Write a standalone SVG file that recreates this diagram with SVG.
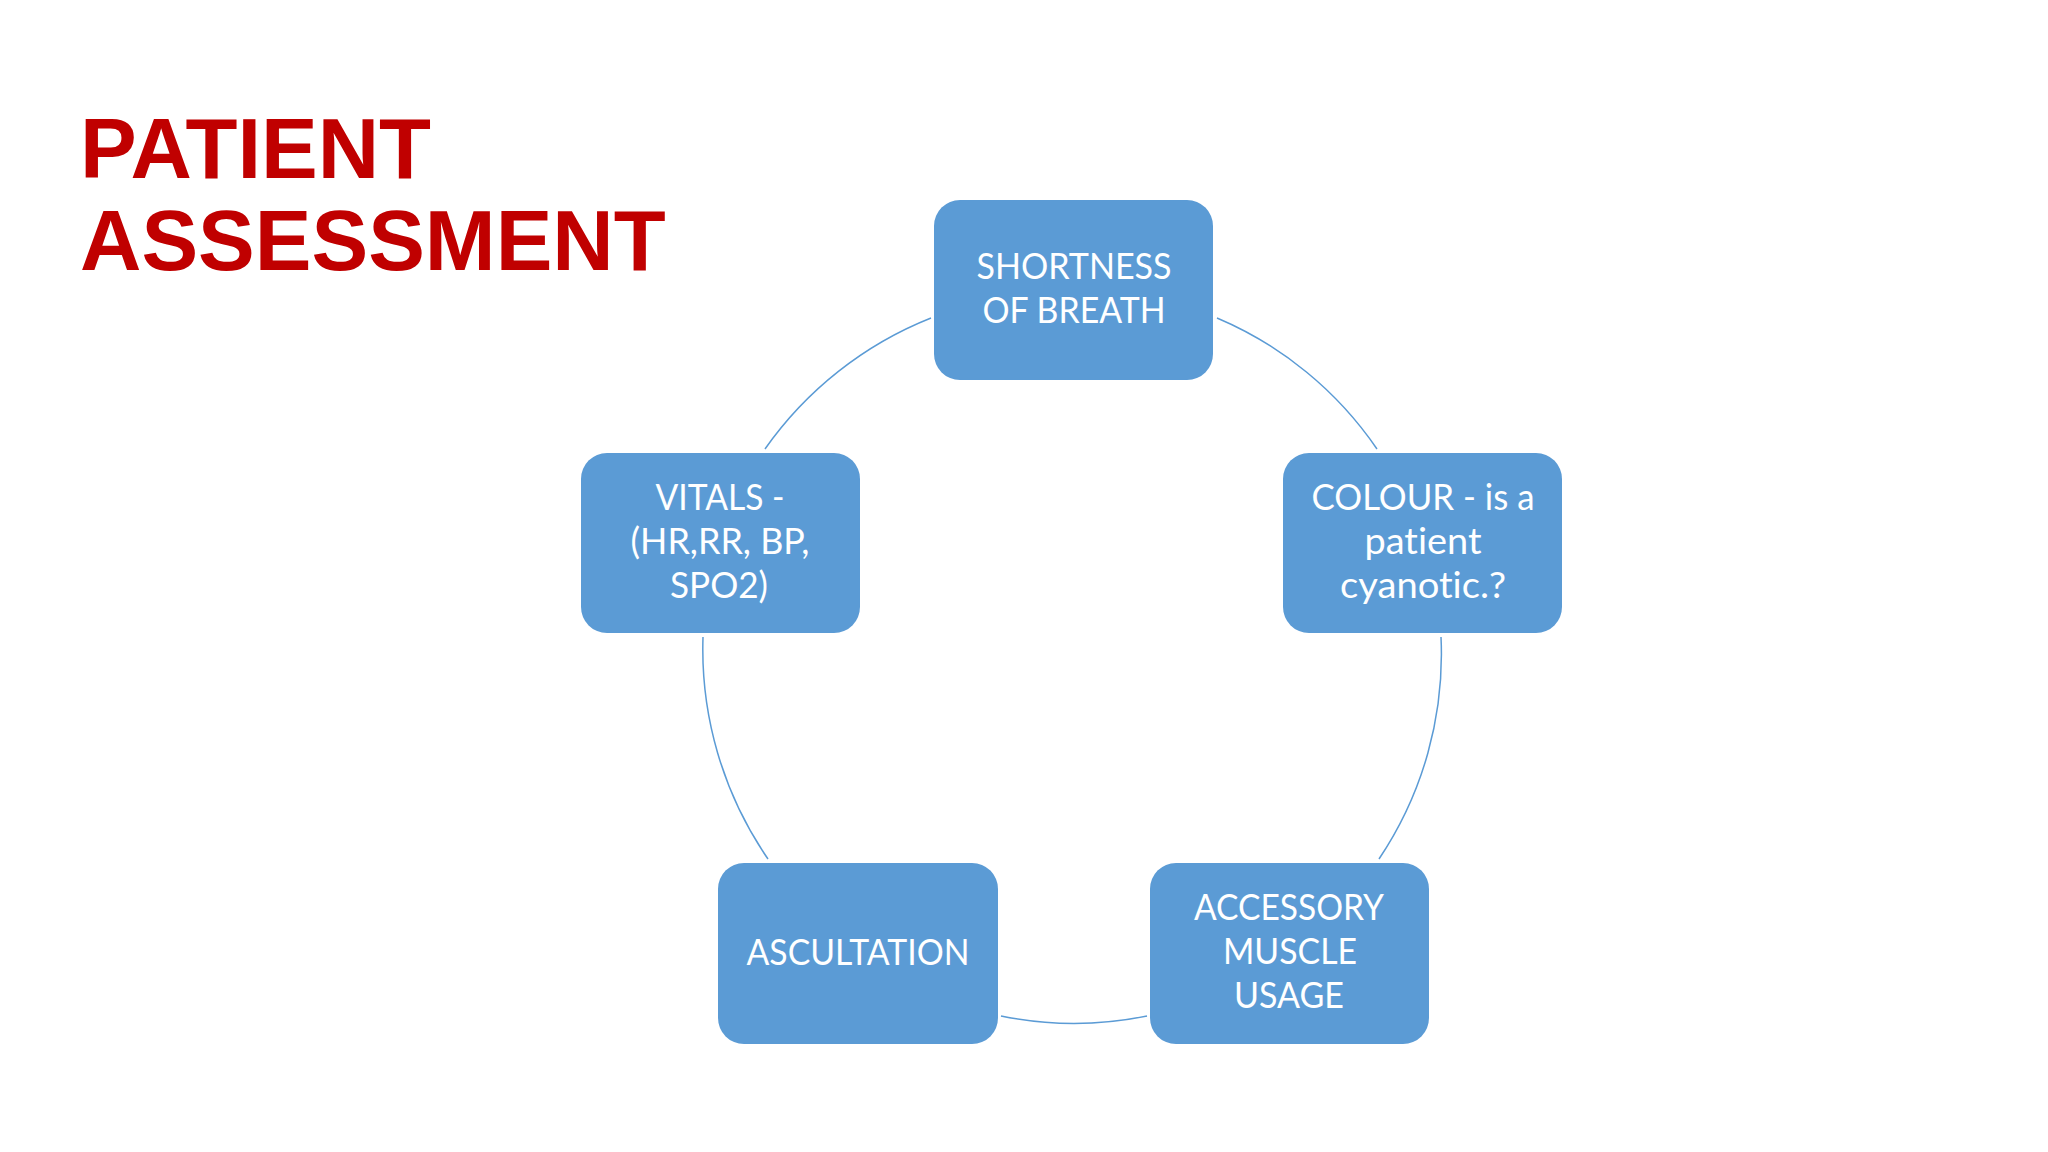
<svg xmlns="http://www.w3.org/2000/svg" width="2048" height="1152" viewBox="0 0 2048 1152">
<style>
.node{fill:#5B9BD5;}
.lbl{font-family:Lato,"Liberation Sans",sans-serif;font-size:36px;fill:#FFFFFF;text-anchor:middle;font-variant-ligatures:none;font-feature-settings:"liga" 0,"dlig" 0;}
.arc{fill:none;stroke:#5B9BD5;stroke-width:1.5;}
.title{font-family:"Liberation Sans",Arial,sans-serif;font-weight:bold;font-size:85px;fill:#C00000;}
</style>
<rect width="2048" height="1152" fill="#FFFFFF"/>
<g id="title">
<text class="title" x="80" y="178">PATIENT</text>
<text class="title" x="80" y="270">ASSESSMENT</text>
</g>
<g id="connectors">
<path class="arc" d="M1217,318 A367,367 0 0 1 1377,449"/>
<path class="arc" d="M1441,637 A367,367 0 0 1 1379,859"/>
<path class="arc" d="M1147,1016 A367,367 0 0 1 1001,1016"/>
<path class="arc" d="M768,859 A370,370 0 0 1 703,637"/>
<path class="arc" d="M765,449 A370,370 0 0 1 931,318"/>
</g>
<g id="node-shortness">
<rect class="node" x="934" y="200" width="279" height="180" rx="26"/>
<text class="lbl" x="1074" y="279" textLength="195" lengthAdjust="spacingAndGlyphs">SHORTNESS</text>
<text class="lbl" x="1074" y="323" textLength="183" lengthAdjust="spacingAndGlyphs">OF BREATH</text>
</g>
<g id="node-colour">
<rect class="node" x="1283" y="453" width="279" height="180" rx="26"/>
<text class="lbl" x="1423" y="510" textLength="223" lengthAdjust="spacingAndGlyphs">COLOUR - is a</text>
<text class="lbl" x="1423" y="554" textLength="117" lengthAdjust="spacingAndGlyphs">patient</text>
<text class="lbl" x="1423" y="598" textLength="166" lengthAdjust="spacingAndGlyphs">cyanotic.?</text>
</g>
<g id="node-accessory">
<rect class="node" x="1150" y="863" width="279" height="181" rx="26"/>
<text class="lbl" x="1289" y="920" textLength="190" lengthAdjust="spacingAndGlyphs">ACCESSORY</text>
<text class="lbl" x="1290" y="964" textLength="134" lengthAdjust="spacingAndGlyphs">MUSCLE</text>
<text class="lbl" x="1289" y="1008" textLength="110" lengthAdjust="spacingAndGlyphs">USAGE</text>
</g>
<g id="node-ascultation">
<rect class="node" x="718" y="863" width="280" height="181" rx="26"/>
<text class="lbl" x="858" y="965" textLength="223" lengthAdjust="spacingAndGlyphs">ASCULTATION</text>
</g>
<g id="node-vitals">
<rect class="node" x="581" y="453" width="279" height="180" rx="26"/>
<text class="lbl" x="720" y="510" textLength="129" lengthAdjust="spacingAndGlyphs">VITALS -</text>
<text class="lbl" x="720" y="554" textLength="179" lengthAdjust="spacingAndGlyphs">(HR,RR, BP,</text>
<text class="lbl" x="719" y="598" textLength="98" lengthAdjust="spacingAndGlyphs">SPO2)</text>
</g>
</svg>
